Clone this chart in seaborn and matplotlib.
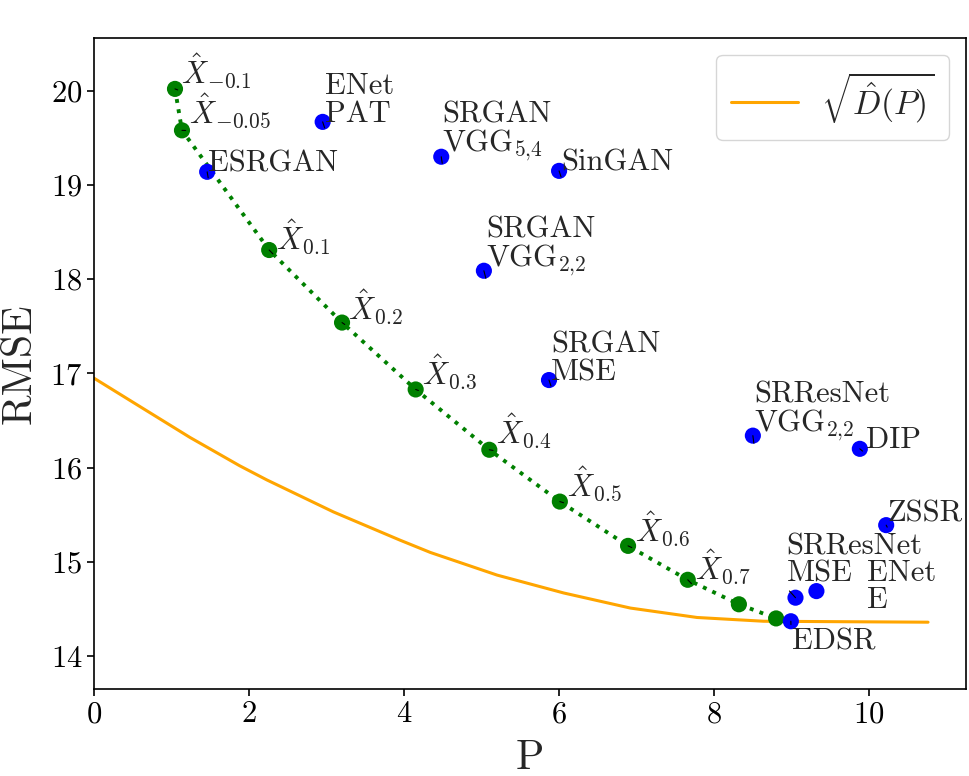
import matplotlib
matplotlib.use("Agg")
import matplotlib.pyplot as plt
import seaborn as sns
import pandas as pd

# ---- data ----
sweep_p = [1.045, 1.135, 2.26, 3.20, 4.15, 5.10, 6.01, 6.89, 7.66, 8.32, 8.80]
sweep_rmse = [20.02, 19.58, 18.31, 17.54, 16.83, 16.19, 15.64, 15.17, 14.81, 14.55, 14.40]
sweep_labels = [r"$\hat{X}_{-0.1}$", r"$\hat{X}_{-0.05}$", r"$\hat{X}_{0.1}$",
                r"$\hat{X}_{0.2}$", r"$\hat{X}_{0.3}$", r"$\hat{X}_{0.4}$",
                r"$\hat{X}_{0.5}$", r"$\hat{X}_{0.6}$", r"$\hat{X}_{0.7}$", "", ""]

methods = ["ENet\nPAT", "SRGAN\nVGG$_{5{,}4}$", "SinGAN", "ESRGAN", "SRGAN\nVGG$_{2{,}2}$",
           "SRGAN\nMSE", "SRResNet\nVGG$_{2{,}2}$", "DIP", "ZSSR", "SRResNet\nMSE",
           "ENet\nE", "EDSR"]
method_p = [2.95, 4.48, 6.00, 1.46, 5.03, 5.87, 8.50, 9.88, 10.22, 9.05, 9.32, 8.99]
method_rmse = [19.67, 19.30, 19.15, 19.14, 18.09, 16.93, 16.34, 16.20, 15.39, 14.62, 14.69, 14.37]

bound_p = [0.0, 0.59, 1.24, 1.88, 2.23, 3.09, 3.95, 4.34, 5.20, 6.06, 6.92, 7.78, 8.64, 10.76]
bound_rmse = [16.95, 16.65, 16.32, 16.02, 15.87, 15.53, 15.23, 15.10, 14.86, 14.67, 14.51,
              14.41, 14.37, 14.36]

x_ticks = [0, 2, 4, 6, 8, 10]
y_ticks = [14, 15, 16, 17, 18, 19, 20]

# label offsets in pixels (last-line baseline relative to the point)
sweep_off = [(6, 5), (7, 7), (7, 0), (6, 3), (6, 5), (7, 6), (7, 5), (7, 4), (7, 0), (0, 0), (0, 0)]
method_off = [(2, 0), (1, 5), (2, 0), (1, 0), (2, 4), (2, 0), (1, 4), (6, 1), (1, 4),
              (-9, 16), (51, -17), (1, -28)]
method_link = [True] * 10 + [False, True]

sns.set_style("white")
plt.rcParams["font.family"] = ["cmr10", "DejaVu Serif"]
plt.rcParams["mathtext.fontset"] = "cm"
plt.rcParams["axes.formatter.use_mathtext"] = True
plt.rcParams["axes.unicode_minus"] = False

fig = plt.figure(figsize=(9.7, 7.76), dpi=100)
ax = fig.add_axes([0.0969, 0.112, 0.899, 0.839])

bound_df = pd.DataFrame({"P": bound_p, "RMSE": bound_rmse})
sweep_df = pd.DataFrame({"P": sweep_p, "RMSE": sweep_rmse})
meth_df = pd.DataFrame({"P": method_p, "RMSE": method_rmse})

sns.lineplot(data=bound_df, x="P", y="RMSE", color="orange", lw=2.2, ax=ax,
             label=r"$\sqrt{\hat{D}(P)}$", sort=False, zorder=2)
sns.lineplot(data=sweep_df, x="P", y="RMSE", color="green", lw=2.8, linestyle=":",
             ax=ax, sort=False, zorder=3)
sns.scatterplot(data=sweep_df, x="P", y="RMSE", color="green", s=135, edgecolor="none",
                ax=ax, zorder=4)
sns.scatterplot(data=meth_df, x="P", y="RMSE", color="blue", s=135, edgecolor="none",
                ax=ax, zorder=4)

arrow = dict(arrowstyle="-", color="black", lw=0.8, shrinkA=0, shrinkB=0, relpos=(0.0, 0.0))
for x, y, lab, off in zip(sweep_p, sweep_rmse, sweep_labels, sweep_off):
    if lab:
        ax.annotate(lab, (x, y), xytext=off, textcoords="offset pixels",
                    ha="left", va="baseline", fontsize=22, arrowprops=arrow, zorder=5)
for x, y, lab, off, link in zip(method_p, method_rmse, methods, method_off, method_link):
    ax.annotate(lab, (x, y), xytext=off, textcoords="offset pixels",
                ha="left", va="baseline", fontsize=22, linespacing=1.0,
                arrowprops=arrow if link else None, zorder=5)

ax.set_xlim(0, 11.25)
ax.set_ylim(13.65, 20.56)
ax.set_xticks(x_ticks)
ax.set_yticks(y_ticks)
ax.tick_params(axis="both", direction="out", length=5, width=1.2, labelsize=22,
               bottom=True, left=True, top=False, right=False, colors="black")
for sp in ax.spines.values():
    sp.set_color("black")
    sp.set_linewidth(1.2)
ax.set_xlabel("P", fontsize=30, labelpad=8)
ax.set_ylabel("RMSE", fontsize=30, labelpad=8)
ax.legend(loc="upper right", fontsize=24, handlelength=2.0, handletextpad=0.7,
          frameon=True, fancybox=True, borderpad=0.45, borderaxespad=0.5)

fig.savefig("out.png", dpi=100)
